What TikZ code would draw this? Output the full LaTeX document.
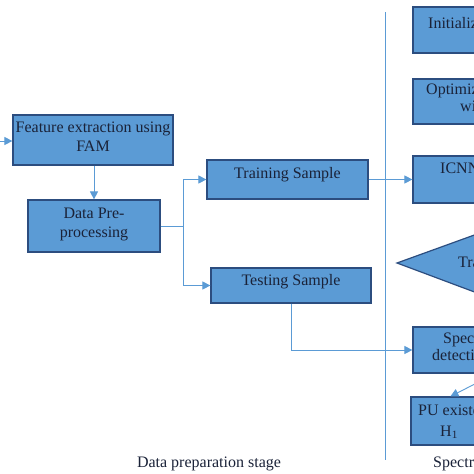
\documentclass[tikz,border=0pt]{standalone}
\usepackage{fontspec}
\setmainfont{Liberation Serif}
\usetikzlibrary{arrows.meta,calc}
\definecolor{boxfill}{HTML}{5B9BD5}
\definecolor{boxline}{HTML}{2C4D7F}
\definecolor{conn}{HTML}{5B9BD5}
\definecolor{ink}{HTML}{1A2238}
\tikzset{
  box/.style={draw=boxline, fill=boxfill, line width=1.2pt, rectangle, inner sep=0pt},
  txt/.style={inner sep=0pt, text=ink, font=\fontsize{16}{19}\selectfont},
  conn/.style={draw=conn, line width=0.9pt, -{Triangle[length=8pt,width=8pt]}},
  plainconn/.style={draw=conn, line width=0.9pt}
}
\begin{document}
\begin{tikzpicture}[x=1pt,y={(0pt,-1pt)}]
\path[use as bounding box] (0,0) rectangle (474,474);
\clip (0,0) rectangle (474,474);
\fill[white] (0,0) rectangle (474,474);

% divider
\draw[plainconn] (385,12) coordinate (divtop) -- (385,460) coordinate (divbot);

% left column boxes
\node[box, minimum width=160pt, minimum height=50pt] (feat) at (93,140) {};
\node[box, minimum width=132pt, minimum height=52pt] (data) at (94,226) {};
\node[box, minimum width=161pt, minimum height=39pt] (train) at (287.5,179.5) {};
\node[box, minimum width=160pt, minimum height=35pt] (test) at (291,285.5) {};

% right column boxes (cut by the image edge)
\node[box, minimum width=147pt, minimum height=46pt] (init) at (486.5,30) {};
\node[box, minimum width=147pt, minimum height=45pt] (opt) at (486.5,101.5) {};
\node[box, minimum width=147pt, minimum height=47pt] (icnn) at (486.5,179.5) {};
\node[box, minimum width=147pt, minimum height=46pt] (spec) at (486.5,350) {};
\node[box, minimum width=149pt, minimum height=48pt] (pu) at (485.5,421) {};
\draw[box] (397,263) -- (560,204) -- (560,324) -- cycle;

% texts
\node[txt, anchor=base] (t1) at (93,132) {Feature extraction using};
\node[txt, anchor=base] (t2) at (93,151) {FAM};
\node[txt, anchor=base] (t3) at (94,218) {Data Pre-};
\node[txt, anchor=base] (t4) at (94,237) {processing};
\node[txt, anchor=base] (t5) at (287.5,178) {Training Sample};
\node[txt, anchor=base] (t6) at (291,285) {Testing Sample};
\node[txt, anchor=base west] (t7) at (428,28) {Initialization};
\node[txt, anchor=base west] (t8) at (426,94) {Optimization};
\node[txt, anchor=base west] (t9) at (460,111) {with};
\node[txt, anchor=base west] (t10) at (440,173) {ICNN};
\node[txt, anchor=base west] (t11) at (458,267) {Training};
\node[txt, anchor=base west] (t12) at (443,343) {Spectrum};
\node[txt, anchor=base west] (t13) at (432,360) {detection};
\node[txt, anchor=base west] (t14) at (418,415) {PU existence};
\node[txt, anchor=base west] (t15) at (440,436) {H\textsubscript{1}};
\node[txt, anchor=base] (t16) at (209,467) {Data preparation stage};
\node[txt, anchor=base west] (t17) at (433,467) {Spectrum sensing stage};

% connectors
\coordinate (inleft) at (0,141);
\draw[conn] (inleft) -- (feat.west |- inleft);
\draw[conn] (feat.south -| data.north) -- (data.north);
\coordinate (split) at (183,226);
\draw[plainconn] (data.east |- split) -- (split);
\draw[conn] (split) |- (train.west);
\draw[conn] (split) |- (test.west);
\draw[conn] (train.east) -- (icnn.west);
\draw[conn] (test.south) |- (spec.west);
\coordinate (specout) at ($(spec.south west)+(83,0)$);
\coordinate (puin) at ($(pu.north west)+(40,0)$);
\draw[conn] (specout) -- (puin);
\end{tikzpicture}
\end{document}
